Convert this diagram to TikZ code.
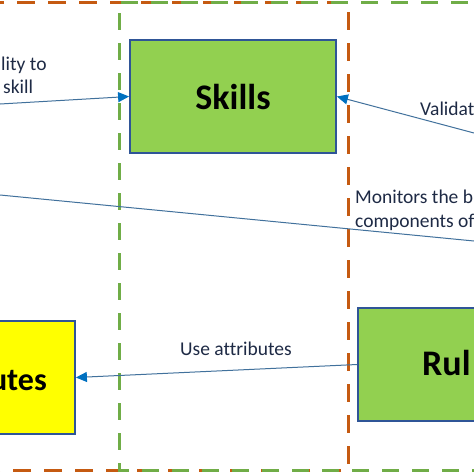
\documentclass[tikz,border=0pt]{standalone}
\usepackage{fontspec}
\setmainfont{Carlito}[Ligatures=NoCommon]
\usetikzlibrary{arrows.meta}
\definecolor{boxgreen}{HTML}{92D050}
\definecolor{boxyellow}{HTML}{FFFF00}
\definecolor{boxedge}{HTML}{2F5597}
\definecolor{lineblue}{HTML}{41719C}
\definecolor{tipblue}{HTML}{0070C0}
\definecolor{txtnavy}{HTML}{1E2A45}
\definecolor{dashorange}{HTML}{C55A11}
\definecolor{dashgreen}{HTML}{70AD47}
\tikzset{
  box/.style={draw=boxedge, line width=1.8pt, fill=boxgreen, minimum width=206pt, minimum height=113pt, inner sep=0pt, font=\fontsize{36}{40}\selectfont\bfseries, text=black},
  ybox/.style={box, fill=boxyellow},
  boxtext/.style={font=\fontsize{36}{40}\selectfont\bfseries, text=black, inner sep=0pt},
  conn/.style={draw=lineblue, line width=1pt},
  arr/.style={conn, -{Triangle[length=11pt,width=10pt,fill=tipblue,color=tipblue]}},
  lbl/.style={font=\fontsize{19.5}{23}\selectfont, text=txtnavy, inner sep=0pt, anchor=base west},
  odash/.style={draw=dashorange, line width=3pt, dash pattern=on 18pt off 13pt},
  gdash/.style={draw=dashgreen, line width=3pt, dash pattern=on 17pt off 13pt},
}
\begin{document}
\begin{tikzpicture}[x=1pt,y=-1pt]
\useasboundingbox (0,0) rectangle (474,474);
\clip (0,0) rectangle (474,474);
\fill[white] (0,0) rectangle (474,474);
% dashed frames
\draw[odash] (-200,2) -- (348,2) -- (348,470) -- (-200,470);
\draw[gdash, dash phase=8pt] (700,2) -- (119,2) -- (119,470) -- (700,470);
% boxes
\node[box] (skills) at (233,96.5) {Skills};
\node[ybox] (attr) at (-28,377.5) {};
\node[box] (rules) at (461,364.5) {};
\node[boxtext, font=\fontsize{32}{36}\selectfont\bfseries, anchor=base east] (attrtxt) at (47,390) {utes};
\node[boxtext, anchor=base west] (rulestxt) at (422,375) {Rul};
% free ends
\coordinate (inL) at (0,104);
\coordinate (inR) at (474,133);
\coordinate (monL) at (0,195);
\coordinate (monR) at (474,241);
% connectors
\draw[arr] (inL) -- (skills.west);
\draw[arr] (inR) -- (skills.east);
\draw[conn] (monL) -- (monR);
\draw[arr] (rules.west) -- (attr.east);
% labels
\node[lbl] (l1) at (1,70) {lity to};
\node[lbl] (l2) at (3,93) {skill};
\node[lbl] (l3) at (420,115) {Validat};
\node[lbl] (l4) at (355,203) {Monitors the b};
\node[lbl] (l5) at (355,227) {components of};
\node[lbl] (l6) at (180,355) {Use attributes};
\end{tikzpicture}
\end{document}
